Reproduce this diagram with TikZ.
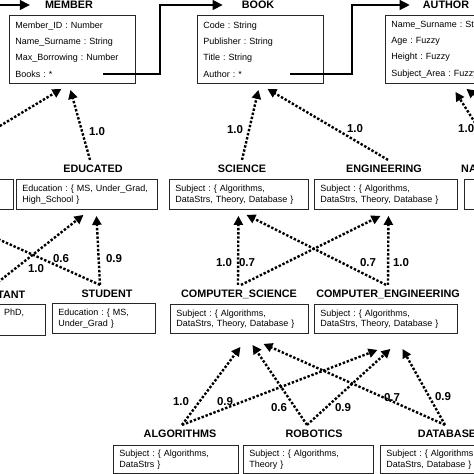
\documentclass[tikz,border=0pt]{standalone}
\usepackage{fontspec}
\setmainfont{Liberation Sans}
\usetikzlibrary{arrows.meta,positioning}
\frenchspacing

\begin{document}
\begin{tikzpicture}[x=1pt, y=-1pt,
    cls/.style={draw=black!85, line width=0.9pt, anchor=north west, inner xsep=6pt, inner ysep=0pt, align=left, font=\fontsize{9}{16.3}\selectfont, minimum width=126pt, text width=114pt, minimum height=68pt},
    sub/.style={draw=black!85, line width=0.9pt, anchor=north west, inner xsep=6pt, inner ysep=0pt, align=left, font=\fontsize{9}{10.5}\selectfont, minimum height=30pt},
    cname/.style={font=\fontsize{10.8}{12}\selectfont\bfseries, inner xsep=0pt, inner ysep=5pt, text height=7.8pt, text depth=0pt},
    wt/.style={font=\fontsize{11.5}{13}\selectfont\bfseries, inner sep=0pt},
    isa/.style={line width=2.4pt, dash pattern=on 2.4pt off 1.8pt, -{Triangle[length=9pt,width=9pt]}},
    ref/.style={line width=1.3pt, -{Triangle[length=10pt,width=10pt]}},
]
\useasboundingbox (0,0) rectangle (474,474);
\clip (0,0) rectangle (474,474);

% Top classes
\node[cname] (member-t) at (69,5) {MEMBER};
\node[cls] (member) at (9,15) {Member\_ID : Number\\Name\_Surname : String\\Max\_Borrowing : Number\\Books : *};
\node[cname] (book-t) at (258,5) {BOOK};
\node[cls] (book) at (197,15) {Code : String\\Publisher : String\\Title : String\\Author : *};
\node[cname] (author-t) at (446,5) {AUTHOR};
\node[cls] (author) at (385,15) {Name\_Surname : String\\Age : Fuzzy\\Height : Fuzzy\\Subject\_Area : Fuzzy};

% Second level
\node[sub, minimum width=143pt] (leftcls) at (-130,179) {};
\node[cname] (educated-t) at (93,169) {EDUCATED};
\node[sub, minimum width=141pt, text width=129pt] (educated) at (16,179) {Education : \{ MS, Under\_Grad,\\High\_School \}};
\node[cname] (science-t) at (242,169) {SCIENCE};
\node[sub, minimum width=139pt, text width=127pt] (science) at (169,179) {Subject : \{ Algorithms,\\DataStrs, Theory, Database \}};
\node[cname] (engineering-t) at (384,169) {ENGINEERING};
\node[sub, minimum width=143pt, text width=131pt] (engineering) at (314,179) {Subject : \{ Algorithms,\\DataStrs, Theory, Database \}};
\node[cname, anchor=west] (na-t) at (461,169) {NA};
\node[sub, minimum width=143pt] (nacls) at (464,179) {};

% Third level
\node[cname, anchor=east] (tant-t) at (25.5,295) {TANT};
\node[sub, minimum width=145pt, minimum height=31pt] (tant) at (-100,304) {};
\node[anchor=west, font=\fontsize{9}{10.5}\selectfont, inner sep=0pt] (tant-txt) at (4,313) {PhD,};
\node[cname] (student-t) at (107,294) {STUDENT};
\node[sub, minimum width=103pt, text width=91pt] (student) at (52,303) {Education : \{ MS,\\Under\_Grad \}};
\node[cname] (cs-t) at (239,294) {COMPUTER\_SCIENCE};
\node[sub, minimum width=138pt, text width=126pt, minimum height=29pt] (cs) at (170,304) {Subject : \{ Algorithms,\\DataStrs, Theory, Database \}};
\node[cname] (ce-t) at (388,294) {COMPUTER\_ENGINEERING};
\node[sub, minimum width=143pt, text width=131pt, minimum height=29pt] (ce) at (314,304) {Subject : \{ Algorithms,\\DataStrs, Theory, Database \}};

% Bottom level
\node[cname] (algorithms-t) at (180,434) {ALGORITHMS};
\node[sub, minimum width=125pt, text width=113pt, minimum height=28pt] (algorithms) at (113,445) {Subject : \{ Algorithms,\\DataStrs \}};
\node[cname] (robotics-t) at (314,434) {ROBOTICS};
\node[sub, minimum width=130pt, text width=118pt, minimum height=28pt] (robotics) at (243,445) {Subject : \{ Algorithms,\\Theory \}};
\node[cname] (database-t) at (447,434) {DATABASE};
\node[sub, minimum width=128pt, text width=116pt, minimum height=28pt] (database) at (380,445) {Subject : \{ Algorithms,\\DataStrs, Database \}};

% Free ends
\coordinate (prevsrc) at (-20,5);
\coordinate (mbooks) at (103,74);
\coordinate (bauthor) at (290,74);
\coordinate (lefttop) at (-65,165);
\coordinate (tantsrc) at (-12,290);
\coordinate (nasrc) at (500,162);
\coordinate (farsrc) at (560,162);

% References
\draw[ref] (prevsrc) -- ([xshift=-15pt]member-t.west);
\draw[ref] (mbooks) -- ++(57,0) |- ([xshift=-19pt]book-t.west);
\draw[ref] (bauthor) -- ++(62,0) |- ([xshift=-13pt]author-t.west);

% Generalisation: top
\draw[isa] (lefttop) -- ([xshift=-11pt,yshift=-5pt]member.south);
\draw[isa] ([xshift=-3pt]educated-t.north) -- ([xshift=-2pt,yshift=-6pt]member.south);
\draw[isa] (science-t.north) -- ([xshift=-2pt,yshift=-6pt]book.south);
\draw[isa] ([xshift=4pt]engineering-t.north) -- ([xshift=7pt,yshift=-5pt]book.south);
\draw[isa] (nasrc) -- ([xshift=7pt,yshift=-8pt]author.south);
\draw[isa] (farsrc) -- ([xshift=18pt,yshift=-5pt]author.south);

% Generalisation: middle
\draw[isa] ([xshift=-1pt]cs-t.north) -- ([xshift=-0.5pt,yshift=-6pt]science.south);
\draw[isa] ([xshift=2pt]cs-t.north) -- ([xshift=-5.5pt,yshift=-6pt]engineering.south);
\draw[isa] ([xshift=-2pt]ce-t.north) -- ([xshift=7.5pt,yshift=-5pt]science.south);
\draw[isa] (ce-t.north) -- ([xshift=2.5pt,yshift=-6pt]engineering.south);
\draw[isa] (tantsrc) -- ([xshift=-3.5pt,yshift=-5pt]educated.south);
\draw[isa] ([xshift=-7pt]student-t.north) -- ([xshift=9.5pt,yshift=-6pt]educated.south);
\draw[isa] ([xshift=-7pt]student-t.north) -- ([yshift=-4pt]leftcls.south);

% Generalisation: bottom
\draw[isa] ([xshift=2pt]algorithms-t.north) -- ([xshift=1pt,yshift=-13pt]cs.south);
\draw[isa] ([xshift=2pt]algorithms-t.north) -- ([xshift=-8.5pt,yshift=-16pt]ce.south);
\draw[isa] ([xshift=-7pt]robotics-t.north) -- ([xshift=13pt,yshift=-11pt]cs.south);
\draw[isa] ([xshift=-7pt]robotics-t.north) -- ([xshift=4.5pt,yshift=-15pt]ce.south);
\draw[isa] ([xshift=-2pt]database-t.north) -- ([xshift=24pt,yshift=-10pt]cs.south);
\draw[isa] ([xshift=-2pt]database-t.north) -- ([xshift=16.5pt,yshift=-15pt]ce.south);

% Weights
\node[wt] (w-edu) at (97,132) {1.0};
\node[wt] (w-sci) at (235,130) {1.0};
\node[wt] (w-eng) at (355,129) {1.0};
\node[wt, anchor=west] (w-na) at (458,129) {1.0};
\node[wt] (w-cs1) at (224,263) {1.0};
\node[wt] (w-cs2) at (247,263) {0.7};
\node[wt] (w-ce1) at (368,263) {0.7};
\node[wt] (w-ce2) at (401,263) {1.0};
\node[wt] (w-tant) at (36,269) {1.0};
\node[wt] (w-stu1) at (61,259) {0.6};
\node[wt] (w-stu2) at (114,259) {0.9};
\node[wt] (w-alg1) at (181,402) {1.0};
\node[wt] (w-alg2) at (225,402) {0.9};
\node[wt] (w-rob1) at (279,408) {0.6};
\node[wt] (w-rob2) at (343,408) {0.9};
\node[wt] (w-db1) at (392,398) {0.7};
\node[wt] (w-db2) at (443,397) {0.9};
\end{tikzpicture}
\end{document}
